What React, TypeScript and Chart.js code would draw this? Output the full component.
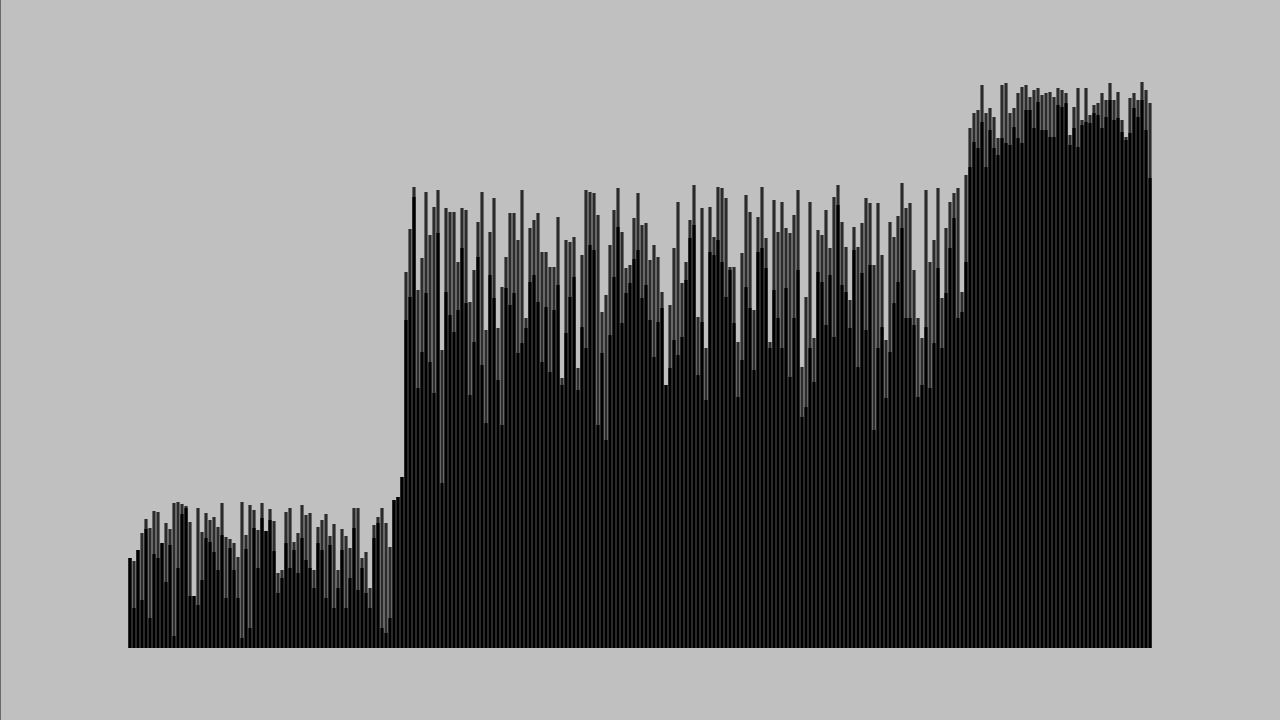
import React, { useEffect, useRef } from "react";
import { Chart, registerables } from "chart.js";

Chart.register(...registerables);

// Heights of the bars in the earlier (ghost) frame, one per bar
const previousHeights = [
  90, 87, 98, 115, 129, 120, 137, 136, 105, 125, 119, 145, 146, 144, 142, 126, 52, 140, 116, 135, 128, 131, 121, 145, 111, 109, 105, 91, 146, 113, 143, 138,
  118, 145, 117, 139, 127, 75, 78, 136, 140, 106, 115, 143, 133, 135, 78, 121, 128, 134, 112, 124, 78, 119, 112, 100, 140, 140, 90, 96, 60, 123, 131, 140, 125, 101,
  148, 151, 171, 376, 419, 461, 358, 390, 456, 413, 441, 458, 298, 440, 436, 436, 386, 440, 438, 346, 378, 426, 456, 318, 416, 450, 320, 361, 391, 435,
  435, 408, 458, 330, 420, 428, 435, 396, 396, 381, 381, 431, 270, 408, 406, 411, 280, 393, 458, 456, 455, 433, 336, 353, 403, 438, 460, 416, 380, 383, 430, 455,
  423, 425, 388, 403, 391, 356, 263, 343, 400, 446, 365, 386, 428, 463, 331, 440, 300, 441, 411, 461, 460, 450, 381, 381, 306, 395, 453, 436, 338, 431, 461, 410,
  306, 448, 416, 446, 420, 415, 433, 458, 281, 351, 446, 310, 418, 413, 438, 400, 451, 463, 426, 401, 348, 421, 401, 425, 450, 445, 383, 445, 393, 308, 426, 411,
  432, 465, 440, 445, 378, 330, 310, 458, 386, 408, 460, 350, 420, 446, 455, 460, 356, 473, 520, 535, 538, 563, 535, 540, 531, 510, 563, 565, 535, 540, 555, 561,
  563, 551, 558, 560, 553, 555, 556, 551, 560, 558, 555, 513, 541, 560, 528, 560, 533, 543, 545, 555, 548, 565, 548, 556, 528, 511, 550, 555, 548, 566, 558, 545,
];

// Heights of the bars in the current frame, one per bar
const currentHeights = [
  90, 40, 98, 48, 119, 30, 94, 90, 105, 66, 103, 12, 80, 134, 140, 52, 52, 43, 68, 110, 106, 96, 78, 113, 50, 100, 78, 50, 10, 99, 20, 120,
  80, 130, 117, 128, 97, 55, 70, 105, 80, 98, 75, 110, 88, 80, 60, 105, 98, 50, 103, 40, 60, 98, 40, 70, 120, 58, 80, 55, 40, 110, 125, 20, 15, 30,
  148, 151, 171, 328, 351, 451, 260, 296, 355, 286, 255, 415, 165, 356, 333, 316, 338, 400, 345, 253, 306, 391, 283, 225, 373, 350, 268, 223, 360, 343,
  355, 295, 305, 320, 366, 373, 346, 286, 341, 276, 338, 363, 263, 315, 351, 371, 258, 321, 300, 403, 398, 223, 295, 208, 313, 371, 421, 325, 355, 365, 389, 398,
  350, 363, 328, 291, 326, 340, 263, 280, 308, 293, 311, 368, 410, 423, 273, 326, 248, 396, 393, 408, 386, 351, 378, 325, 251, 288, 361, 340, 278, 396, 400, 380,
  300, 358, 330, 300, 360, 271, 330, 378, 231, 241, 300, 266, 376, 366, 323, 373, 311, 443, 363, 356, 320, 398, 281, 375, 318, 383, 218, 300, 321, 250, 296, 345,
  366, 420, 330, 330, 323, 251, 263, 321, 260, 305, 380, 300, 355, 400, 430, 330, 336, 386, 481, 506, 500, 526, 481, 518, 500, 493, 510, 505, 503, 521, 510, 505,
  538, 538, 520, 546, 518, 518, 511, 511, 543, 541, 545, 503, 520, 501, 523, 526, 525, 535, 533, 520, 531, 548, 528, 530, 516, 508, 515, 540, 531, 548, 518, 470,
];

const categories = currentHeights.map((_, i) => String(i + 1));
const axisMax = 648;

export default function App() {
  const ref = useRef<HTMLCanvasElement>(null);

  useEffect(() => {
    if (!ref.current) return;
    const chart = new Chart(ref.current, {
      type: "bar",
      data: {
        labels: categories,
        datasets: [
          {
            data: currentHeights,
            backgroundColor: "#000000",
            grouped: false,
            order: 0,
            barPercentage: 0.8,
            categoryPercentage: 1,
          },
          {
            data: previousHeights,
            backgroundColor: "#2c2c2c",
            grouped: false,
            order: 1,
            barPercentage: 0.8,
            categoryPercentage: 1,
          },
        ],
      },
      options: {
        responsive: false,
        animation: false,
        devicePixelRatio: 1,
        layout: { padding: { left: 128, right: 128, top: 0, bottom: 72 } },
        scales: {
          x: { display: false },
          y: { display: false, min: 0, max: axisMax },
        },
        plugins: {
          legend: { display: false },
          tooltip: { enabled: false },
        },
      },
    });
    return () => chart.destroy();
  }, []);

  return (
    <div
      style={{
        position: "fixed",
        left: 0,
        top: 0,
        width: 1280,
        height: 720,
        background: "#c0c0c0",
        overflow: "hidden",
      }}
    >
      <div style={{ position: "absolute", left: 0, top: 0, width: 1, height: 720, background: "#6a6a6a" }} />
      <canvas ref={ref} width={1280} height={720} style={{ position: "absolute", left: 0, top: 0 }} />
    </div>
  );
}
